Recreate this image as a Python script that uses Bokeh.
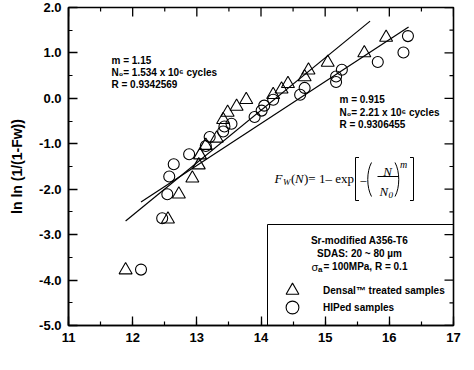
from bokeh.plotting import figure
from bokeh.models import (SingleIntervalTicker, PrintfTickFormatter, Label,
                          BoxAnnotation, Legend, LegendItem, Range1d)
from bokeh.embed import file_html
from bokeh.resources import INLINE

# ---------------- data ----------------
densal_x = [15.95, 15.61, 15.04, 14.74, 14.68, 14.42, 14.32, 14.19, 13.77, 13.62,
            13.48, 13.41, 13.31, 13.14, 13.05, 13.03, 12.93, 12.72, 12.55, 11.89]
densal_y = [1.34, 1.00, 0.79, 0.62, 0.47, 0.32, 0.20, 0.08, -0.03, -0.18,
            -0.31, -0.47, -0.88, -1.04, -1.25, -1.47, -1.76, -2.11, -2.66, -3.78]

hip_x = [16.29, 16.22, 15.82, 15.26, 15.17, 15.17, 14.68, 14.61, 14.19, 14.05,
         14.01, 13.90, 13.54, 13.43, 13.41, 13.20, 13.14, 12.88, 12.64, 12.57,
         12.54, 12.46, 12.13]
hip_y = [1.37, 1.01, 0.80, 0.63, 0.48, 0.36, 0.23, 0.08, -0.03, -0.16,
         -0.27, -0.41, -0.56, -0.62, -0.73, -0.85, -1.05, -1.23, -1.45, -1.72,
         -2.11, -2.64, -3.77]

fit1_x = [11.89, 15.70]
fit1_y = [-2.70, 1.70]
fit2_x = [12.13, 16.30]
fit2_y = [-2.28, 1.57]

x_ticks = [11, 12, 13, 14, 15, 16, 17]
y_ticks = [-5, -4, -3, -2, -1, 0, 1, 2]

fit1_text = ["m = 1.15", "N\u2080= 1.534 x 10\u2076 cycles", "R = 0.9342569"]
fit2_text = ["m = 0.915", "N\u2080= 2.21 x 10\u2076 cycles", "R = 0.9306455"]
legend_header = ["Sr-modified A356-T6", "SDAS: 20 ~ 80 \u00b5m"]
legend_labels = ["Densal\u2122 treated samples", "HIPed samples"]

X_MIN, X_MAX = x_ticks[0], x_ticks[-1]
Y_MIN, Y_MAX = y_ticks[0], y_ticks[-1]

# ---------------- helpers: reference pixel -> data (annotations only) ----------------
PXU = 385 / 6.0   # px per x unit
PYU = 318 / 7.0   # px per y unit


def rx(px):
    return 11 + (px - 68) / PXU


def ry(py):
    return 2 - (py - 7) / PYU


SANS = "Liberation Sans"
SERIF = "Liberation Serif"

p = figure(width=466, height=368, x_range=Range1d(X_MIN, X_MAX), y_range=Range1d(Y_MIN, Y_MAX),
           output_backend="svg", toolbar_location=None,
           min_border_left=68, min_border_right=13, min_border_top=7, min_border_bottom=43)
p.background_fill_color = "white"
p.border_fill_color = "white"
p.xgrid.visible = False
p.ygrid.visible = False
p.outline_line_color = "black"
p.outline_line_width = 1.6

p.xaxis.ticker = SingleIntervalTicker(interval=1, num_minor_ticks=2)
p.yaxis.ticker = SingleIntervalTicker(interval=1, num_minor_ticks=2)
p.yaxis.formatter = PrintfTickFormatter(format="%.1f")
for ax in list(p.xaxis) + list(p.yaxis):
    ax.axis_line_color = "black"
    ax.axis_line_width = 1.6
    ax.major_tick_in = 9
    ax.major_tick_out = 0
    ax.minor_tick_in = 4
    ax.minor_tick_out = 0
    ax.major_tick_line_width = 1.3
    ax.minor_tick_line_width = 1.2
    ax.major_tick_line_color = "black"
    ax.minor_tick_line_color = "black"
    ax.major_label_text_font = SANS
    ax.major_label_text_font_style = "bold"
    ax.major_label_text_font_size = "13px"
    ax.major_label_text_color = "black"
    ax.major_label_standoff = 7
for ax in p.yaxis:
    ax.axis_label = "ln ln (1/(1-Fw))"
    ax.axis_label_text_font = SANS
    ax.axis_label_text_font_style = "bold"
    ax.axis_label_text_font_size = "14px"
    ax.axis_label_text_color = "black"
    ax.axis_label_standoff = 11

# mirrored ticks on top and right edges (from the tick lists)
x_minor = [(a + b) / 2 for a, b in zip(x_ticks[:-1], x_ticks[1:])]
y_minor = [(a + b) / 2 for a, b in zip(y_ticks[:-1], y_ticks[1:])]
MJ, MN = 9, 4
p.segment(x0=x_ticks, y0=[Y_MAX] * len(x_ticks), x1=x_ticks, y1=[Y_MAX - MJ / PYU] * len(x_ticks),
          line_color="black", line_width=1.3)
p.segment(x0=x_minor, y0=[Y_MAX] * len(x_minor), x1=x_minor, y1=[Y_MAX - MN / PYU] * len(x_minor),
          line_color="black", line_width=1.2)
p.segment(x0=[X_MAX] * len(y_ticks), y0=y_ticks, x1=[X_MAX - MJ / PXU] * len(y_ticks), y1=y_ticks,
          line_color="black", line_width=1.3)
p.segment(x0=[X_MAX] * len(y_minor), y0=y_minor, x1=[X_MAX - MN / PXU] * len(y_minor), y1=y_minor,
          line_color="black", line_width=1.2)

# ---------------- data glyphs ----------------
p.line(fit1_x, fit1_y, line_color="black", line_width=1.2)
p.line(fit2_x, fit2_y, line_color="black", line_width=1.2)
r1 = p.scatter(densal_x, densal_y, marker="triangle", size=13, fill_color=None,
               line_color="black", line_width=1.1)
r2 = p.scatter(hip_x, hip_y, marker="circle", size=11, fill_color=None,
               line_color="black", line_width=1.1)

# ---------------- fit annotations ----------------
for i, t in enumerate(fit1_text):
    p.add_layout(Label(x=rx(111), y=ry(60 + 12 * i), text=t, text_font=SANS, text_font_style="bold",
                       text_font_size="10px", text_baseline="middle", text_color="black"))
for i, t in enumerate(fit2_text):
    p.add_layout(Label(x=rx(339), y=ry(99 + 12.5 * i), text=t, text_font=SANS, text_font_style="bold",
                       text_font_size="10px", text_baseline="middle", text_color="black"))


# ---------------- formula ----------------
def flabel(px, py, text, size="13px", style="italic", align="left"):
    p.add_layout(Label(x=rx(px), y=ry(py), text=text, text_font=SERIF, text_font_style=style,
                       text_font_size=size, text_baseline="alphabetic", text_align=align,
                       text_color="black"))


flabel(274, 178, "F")
flabel(282.5, 181, "W", size="9px")
flabel(290.5, 178, "(", style="normal")
flabel(294.5, 178, "N")
flabel(303.5, 178, ")= 1\u2013 exp", style="normal")
flabel(359, 181, "\u2212", style="normal")
flabel(387, 171, "N", align="center")
flabel(379, 191, "N")
flabel(388, 194, "0", size="9px")
flabel(399.5, 164, "m", size="10px")

br_x = [[rx(358.5), rx(355), rx(355), rx(358.5)], [rx(409.5), rx(413), rx(413), rx(409.5)],
        [rx(377), rx(398)]]
br_y = [[ry(157), ry(157), ry(200), ry(200)], [ry(157), ry(157), ry(200), ry(200)],
        [ry(176), ry(176)]]
p.multi_line(br_x, br_y, line_color="black", line_width=1)
p.bezier(x0=[rx(371), rx(394.5)], y0=[ry(162), ry(162)], x1=[rx(371), rx(394.5)], y1=[ry(196), ry(196)],
         cx0=[rx(366), rx(399.5)], cy0=[ry(171), ry(171)], cx1=[rx(366), rx(399.5)], cy1=[ry(187), ry(187)],
         line_color="black", line_width=1)

# ---------------- legend box ----------------
p.add_layout(BoxAnnotation(left=rx(267), right=X_MAX, top=ry(224), bottom=Y_MIN,
                           fill_alpha=0, line_color="black", line_alpha=1, line_width=1))
for i, t in enumerate(legend_header):
    p.add_layout(Label(x=rx(359), y=ry(240 + 13 * i), text=t, text_font=SANS, text_font_style="bold",
                       text_font_size="10px", text_baseline="middle", text_align="center",
                       text_color="black"))
p.add_layout(Label(x=rx(311), y=ry(266), text="\u03c3", text_font=SANS, text_font_style="normal",
                   text_font_size="11px", text_baseline="middle", text_color="black"))
p.add_layout(Label(x=rx(317.5), y=ry(268.5), text="a", text_font=SANS, text_font_style="bold",
                   text_font_size="8px", text_baseline="middle", text_color="black"))
p.add_layout(Label(x=rx(323), y=ry(266), text="= 100MPa, R = 0.1", text_font=SANS,
                   text_font_style="bold", text_font_size="10px", text_baseline="middle",
                   text_color="black"))

# two one-item legends (so that the rows sit 17 px apart with full-size symbols)
for item, loc in [(LegendItem(label=legend_labels[0], renderers=[r1]), (208, 19)),
                  (LegendItem(label=legend_labels[1], renderers=[r2]), (208, 2))]:
    lg = Legend(items=[item], location=loc, orientation="vertical",
                border_line_color=None, background_fill_alpha=0,
                padding=0, spacing=0, margin=0,
                glyph_width=32, glyph_height=32, label_height=32, label_standoff=15,
                label_text_font=SANS, label_text_font_style="bold", label_text_font_size="10px",
                label_text_color="black")
    p.add_layout(lg)

# ---------------- x axis label with subscript ----------------
p.add_layout(Label(x=rx(273), y=ry(354), text="ln ( N", text_font=SANS, text_font_style="bold",
                   text_font_size="14px", text_baseline="middle", text_align="right",
                   text_color="black"))
p.add_layout(Label(x=rx(275.5), y=ry(358), text="f", text_font=SANS, text_font_style="bold",
                   text_font_size="14px", text_baseline="middle", text_color="black"))
p.add_layout(Label(x=rx(283), y=ry(354), text=")", text_font=SANS, text_font_style="bold",
                   text_font_size="14px", text_baseline="middle", text_color="black"))

open("out.html", "w").write(file_html(p, INLINE))
